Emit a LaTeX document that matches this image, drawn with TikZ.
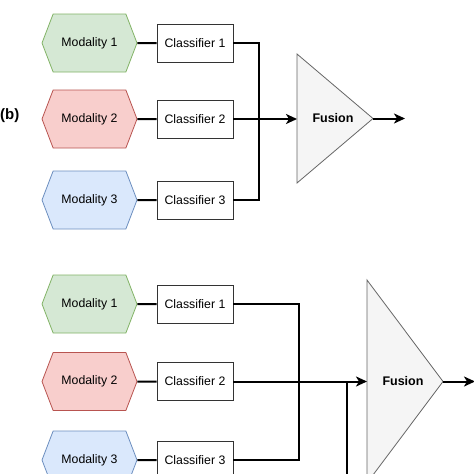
\documentclass[tikz,border=0pt]{standalone}
\usepackage{fontspec}
\setmainfont{Liberation Sans}
\usetikzlibrary{shapes.symbols,arrows.meta}
\definecolor{gfill}{HTML}{D5E8D4}\definecolor{gline}{HTML}{82B366}
\definecolor{rfill}{HTML}{F8CECC}\definecolor{rline}{HTML}{B85450}
\definecolor{bfill}{HTML}{DAE8FC}\definecolor{bline}{HTML}{6C8EBF}
\definecolor{tfill}{HTML}{F5F5F5}\definecolor{tline}{HTML}{666666}
\begin{document}
\begin{tikzpicture}[x=1pt,y=-1pt,
 every node/.style={font=\fontsize{12.3}{14}\selectfont},
 hexa/.style={signal, signal to=west and east, signal pointer angle=138, minimum width=95pt, minimum height=58pt, inner sep=0pt, line width=0.8pt},
 clsbox/.style={draw=black!80, fill=white, minimum width=76pt, minimum height=38pt, inner sep=0pt, line width=0.8pt},
 conn/.style={line width=2pt},
 arr/.style={conn, -{Stealth[length=11pt,width=10pt,inset=3pt]}},
 tri/.style={draw=tline, fill=tfill, line width=0.8pt},
 fuse/.style={font=\fontsize{12.5}{14}\selectfont\bfseries},
 lbl/.style={font=\fontsize{15}{17}\selectfont\bfseries, inner sep=0pt}]
\useasboundingbox (0,0) rectangle (474,474);
\clip (0,0) rectangle (474,474);

% ---------- top diagram ----------
\node[lbl, anchor=base east] (lb) at (19.5,119.5) {(b)};

\node[hexa, draw=gline, fill=gfill] (M1) at (89.5,43) {Modality 1};
\node[hexa, draw=rline, fill=rfill] (M2) at (89.5,119) {Modality 2};
\node[hexa, draw=bline, fill=bfill] (M3) at (89.5,200) {Modality 3};
\node[clsbox] (C1) at (195,43) {Classifier 1};
\node[clsbox] (C2) at (195,119) {Classifier 2};
\node[clsbox] (C3) at (195,200) {Classifier 3};

\coordinate (F1a) at (297,54);
\coordinate (F1b) at (297,183);
\coordinate (F1tip) at (373,118.5);
\coordinate (F1in) at (297,119);
\draw[tri] (F1a) -- (F1tip) -- (F1b) -- cycle;
\node[fuse] (F1) at (333,118.5) {Fusion};
\coordinate (O1) at (405,118.5);
\coordinate (V1) at (259,119);

\draw[conn] (M1) -- (C1);
\draw[conn] (M2) -- (C2);
\draw[conn] (M3) -- (C3);
\draw[conn] (C1.east) -- (C1.east -| V1) -- (C3.east -| V1) -- (C3.east);
\draw[arr] (C2.east) -- (F1in);
\draw[arr] (F1tip) -- (O1);

% ---------- bottom diagram ----------
\node[hexa, draw=gline, fill=gfill] (M4) at (89.5,304) {Modality 1};
\node[hexa, draw=rline, fill=rfill] (M5) at (89.5,381.5) {Modality 2};
\node[hexa, draw=bline, fill=bfill] (M6) at (89.5,460) {Modality 3};
\node[clsbox] (C4) at (195,304) {Classifier 1};
\node[clsbox] (C5) at (195,381.5) {Classifier 2};
\node[clsbox] (C6) at (195,460) {Classifier 3};

\coordinate (F2a) at (367,280);
\coordinate (F2b) at (367,483);
\coordinate (F2tip) at (443,381.5);
\coordinate (F2in) at (367,381.5);
\draw[tri] (F2a) -- (F2tip) -- (F2b) -- cycle;
\node[fuse] (F2) at (403,381.5) {Fusion};
\coordinate (O2) at (475,381.5);
\coordinate (V2) at (299,381.5);
\coordinate (T2) at (347,381.5);
\coordinate (T2b) at (347,495);

\draw[conn] (M4) -- (C4);
\draw[conn] (M5) -- (C5);
\draw[conn] (M6) -- (C6);
\draw[conn] (C4.east) -- (C4.east -| V2) -- (C6.east -| V2) -- (C6.east);
\draw[arr] (C5.east) -- (F2in);
\draw[conn] (T2) -- (T2b);
\draw[arr] (F2tip) -- (O2);
\end{tikzpicture}
\end{document}
